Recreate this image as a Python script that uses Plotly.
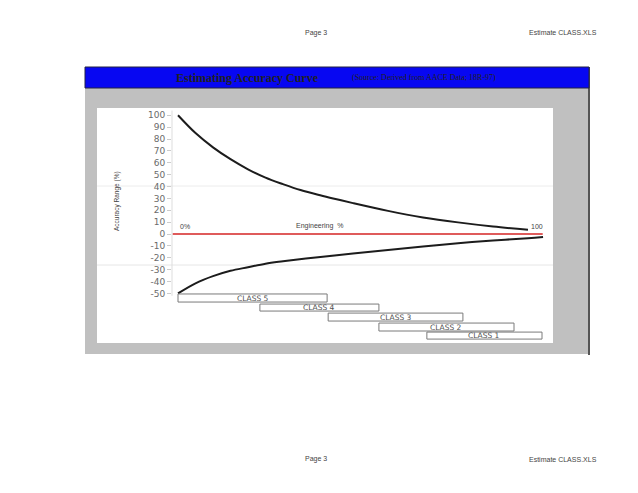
import plotly.graph_objects as go

# accuracy curve (engineering % vs accuracy range %)
upper_x = [0, 5, 10, 15, 20, 25, 30, 35, 40, 45, 50, 60, 70, 80, 90, 100]
upper_y = [100, 85, 73, 63, 54.5, 47.5, 42, 37, 33, 29.5, 26, 19.5, 14, 9.8, 6.3, 3.5]
lower_x = [0, 5, 10, 15, 20, 25, 30, 40, 50, 60, 70, 80, 90, 100, 104.3]
lower_y = [-50, -41.5, -35.5, -31, -28, -25, -23, -19.5, -16.5, -13.5, -10.5, -7.8, -5.5, -3.5, -2.5]
zero_x = [-1.5, 104.2]
zero_y = [0, 0]

# estimate class bars
class_names = ["CLASS 5", "CLASS 4", "CLASS 3", "CLASS 2", "CLASS 1"]
class_start = [0, 23.4, 42.9, 57.4, 71.1]
class_end = [42.6, 57.4, 81.4, 96, 104]
class_top = [-50.5, -59, -66.6, -75, -82.6]
class_bottom = [-57.3, -64.9, -73.3, -81.7, -88.5]

y_ticks = [100, 90, 80, 70, 60, 50, 40, 30, 20, 10, 0, -10, -20, -30, -40, -50]
y_labels = [str(v) for v in y_ticks]

W, H = 638, 493


def px(x):
    return x / W


def py(y):
    return 1 - y / H


fig = go.Figure()

fig.add_trace(go.Scatter(x=zero_x, y=zero_y, mode="lines",
                         line=dict(color="#d42424", width=1.5), hoverinfo="skip"))
fig.add_trace(go.Scatter(x=upper_x, y=upper_y, mode="lines",
                         line=dict(color="#1c1c1c", width=2, shape="spline")))
fig.add_trace(go.Scatter(x=lower_x, y=lower_y, mode="lines",
                         line=dict(color="#1c1c1c", width=2, shape="spline")))

shapes = [
    # grey panel + blue title bar + white chart area
    dict(type="rect", xref="paper", yref="paper", x0=px(85), x1=px(589), y0=py(354), y1=py(88),
         fillcolor="#c0c0c0", line=dict(width=0), layer="below"),
    dict(type="line", xref="paper", yref="paper", x0=px(589), x1=px(589), y0=py(355), y1=py(67),
         line=dict(color="#555555", width=2), layer="below"),
    dict(type="rect", xref="paper", yref="paper", x0=px(85), x1=px(589), y0=py(88), y1=py(67),
         fillcolor="#0707f2", line=dict(color="#222244", width=1), layer="below"),
    dict(type="rect", xref="paper", yref="paper", x0=px(97), x1=px(553), y0=py(343), y1=py(108),
         fillcolor="white", line=dict(width=0), layer="below"),
    dict(type="line", xref="paper", yref="paper", x0=px(97), x1=px(553), y0=py(186), y1=py(186),
         line=dict(color="#ececec", width=1), layer="below"),
    dict(type="line", xref="paper", yref="paper", x0=px(97), x1=px(553), y0=py(265), y1=py(265),
         line=dict(color="#e6e6e6", width=1), layer="below"),
    dict(type="line", xref="x domain", yref="y", x0=0, x1=0, y0=-52, y1=104,
         line=dict(color="#dddddd", width=1), layer="below"),
]

annotations = []
for name, x0, x1, y0, y1 in zip(class_names, class_start, class_end, class_top, class_bottom):
    shapes.append(dict(type="rect", xref="x", yref="y", x0=x0, x1=x1, y0=y1, y1=y0,
                       fillcolor="white", line=dict(color="#7a7a7a", width=1)))
    annotations.append(dict(x=(x0 + x1) / 2, y=(y0 + y1) / 2, xref="x", yref="y", text=name,
                            showarrow=False, xanchor="center", yanchor="middle",
                            font=dict(family="DejaVu Sans", size=7.5, color="#505050")))

small = dict(family="Liberation Sans, Arial", size=7, color="#444")


def note(x, y, text, font, **kw):
    d = dict(x=x, y=y, xref="paper", yref="paper", text=text, showarrow=False,
             xanchor="center", yanchor="middle", font=font)
    d.update(kw)
    return d


annotations += [
    dict(x=0, y=1.5, xref="x", yref="y", text="0%", showarrow=False, xanchor="left",
         yanchor="bottom", font=small),
    dict(x=40.5, y=1.5, xref="x", yref="y", text="Engineering  %", showarrow=False,
         xanchor="center", yanchor="bottom", font=small),
    dict(x=102.5, y=1.5, xref="x", yref="y", text="100", showarrow=False,
         xanchor="center", yanchor="bottom", font=small),
    note(px(117), py(201), "Accuracy Range (%)",
         dict(family="Liberation Sans Narrow, Liberation Sans", size=6.5, color="#444"), textangle=-90),
    note(px(248), py(78), "<b>Estimating Accuracy Curve</b>",
         dict(family="Liberation Serif, DejaVu Serif", size=12, color="#222")),
    note(px(424), py(78), "(Source: Derived from AACE Data; 18R-97)",
         dict(family="Liberation Serif", size=8, color="#222")),
    note(px(316), py(33), "Page 3", small),
    note(px(563), py(33), "Estimate CLASS.XLS", small),
    note(px(316), py(459), "Page 3", small),
    note(px(563), py(459), "Estimate CLASS.XLS", small),
]

fig.update_layout(
    width=W, height=H,
    margin=dict(l=0, r=0, t=0, b=0),
    paper_bgcolor="white",
    plot_bgcolor="rgba(0,0,0,0)",
    showlegend=False,
    xaxis=dict(domain=[px(172), px(548)], range=[-1.714, 105.71], visible=False, fixedrange=True),
    yaxis=dict(domain=[py(343), py(104)], range=[-91.8, 109.5], tickvals=y_ticks, ticktext=y_labels,
               ticks="outside", ticklen=4, tickcolor="#cccccc", showgrid=False, zeroline=False,
               showline=False, tickfont=dict(family="DejaVu Sans", size=9, color="#6a6a6a"),
               fixedrange=True),
    shapes=shapes,
    annotations=annotations,
)

# drop the page's default body margin so the figure sits at 0,0
fig.write_html("out.html", config={"displayModeBar": False},
               post_script="document.body.style.margin='0';")
